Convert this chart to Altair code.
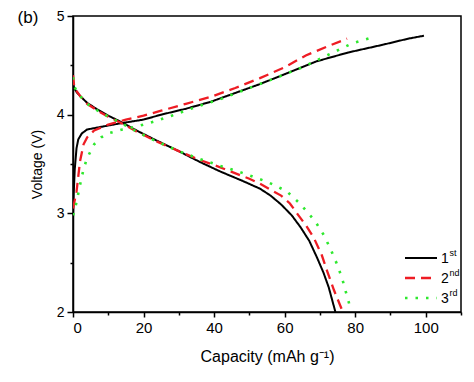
import altair as alt
import pandas as pd

# ---- data ----
cycles = ["1st", "2nd", "3rd"]

c1_charge_x = [0, 0.2, 0.5, 1.0, 1.5, 2.5, 4, 7, 13, 20, 25, 32, 39, 46, 53, 60, 69, 78, 88, 95, 99.5]
c1_charge_y = [2.95, 3.2, 3.45, 3.66, 3.75, 3.81, 3.85, 3.87, 3.91, 3.95, 4.0, 4.06, 4.13, 4.22, 4.31, 4.41, 4.54, 4.63, 4.71, 4.77, 4.80]
c1_dis_x = [0, 0.3, 1, 2, 4, 7, 10, 13.4, 18, 23, 30, 36, 42, 48, 53, 56, 59, 62, 64.5, 67, 69.2, 71, 72.5, 74.4]
c1_dis_y = [4.33, 4.27, 4.23, 4.19, 4.12, 4.05, 3.99, 3.93, 3.84, 3.75, 3.63, 3.52, 3.42, 3.33, 3.25, 3.18, 3.09, 2.98, 2.86, 2.72, 2.55, 2.40, 2.25, 2.0]

c2_charge_x = [0, 0.3, 1.0, 2, 3, 4, 6, 10, 15, 20, 25, 32, 39, 46, 53, 60, 66, 72, 77.7]
c2_charge_y = [3.05, 3.1, 3.22, 3.53, 3.70, 3.77, 3.84, 3.90, 3.95, 3.99, 4.04, 4.11, 4.18, 4.27, 4.37, 4.48, 4.60, 4.69, 4.77]
c2_dis_x = [0, 0.3, 1, 2, 4, 7, 10, 13.4, 18, 23, 30, 36, 40, 45, 50, 53, 56, 59, 61.5, 63.5, 66, 68.3, 70.5, 72.1, 74, 76.5]
c2_dis_y = [4.40, 4.30, 4.24, 4.19, 4.11, 4.04, 3.98, 3.92, 3.83, 3.74, 3.63, 3.54, 3.49, 3.42, 3.35, 3.30, 3.24, 3.18, 3.10, 3.00, 2.88, 2.75, 2.58, 2.41, 2.22, 2.0]

c3_charge_x = [0, 0.6, 1.2, 2, 3, 4, 6, 8, 10, 14, 18, 23, 28, 35, 42, 50, 58, 65, 72, 79, 85.5]
c3_charge_y = [2.98, 3.05, 3.15, 3.29, 3.45, 3.56, 3.70, 3.77, 3.81, 3.85, 3.88, 3.93, 3.99, 4.08, 4.16, 4.27, 4.38, 4.48, 4.60, 4.72, 4.79]
c3_dis_x = [0, 0.3, 1, 2, 4, 7, 10, 13.4, 18, 23, 30, 36, 42.7, 48, 55, 58, 60.7, 64, 66.8, 69, 71.1, 73, 74.9, 76.3, 77.3, 78.8]
c3_dis_y = [4.38, 4.29, 4.24, 4.19, 4.11, 4.04, 3.98, 3.92, 3.83, 3.74, 3.63, 3.55, 3.47, 3.41, 3.32, 3.27, 3.22, 3.11, 3.00, 2.90, 2.78, 2.64, 2.48, 2.34, 2.21, 2.02]

legend_main = ["1", "2", "3"]
legend_sup = ["st", "nd", "rd"]

# ---- build table ----
rows = []
series = {
    "1st": [(c1_charge_x, c1_charge_y), (c1_dis_x, c1_dis_y)],
    "2nd": [(c2_charge_x, c2_charge_y), (c2_dis_x, c2_dis_y)],
    "3rd": [(c3_charge_x, c3_charge_y), (c3_dis_x, c3_dis_y)],
}
for cyc, segs in series.items():
    for si, (xs, ys) in enumerate(segs):
        for i, (xv, yv) in enumerate(zip(xs, ys)):
            rows.append({"cycle": cyc, "seg": f"{cyc}-{si}", "i": i, "cap": xv, "volt": yv})
df = pd.DataFrame(rows)

colors = {"1st": "#000000", "2nd": "#ee1c24", "3rd": "#2ee82e"}
dashes = {"1st": [1, 0], "2nd": [10, 6], "3rd": [2.5, 8]}
widths = {"1st": 2, "2nd": 2.3, "3rd": 2.6}

x_axis = alt.Axis(
    values=list(range(0, 111, 10)),
    labelExpr="datum.value % 20 == 0 && datum.value <= 100 ? datum.label : ''",
    tickSize={"condition": {"test": "datum.value % 20 != 0", "value": 3}, "value": 5},
    title="Capacity (mAh g\u207b\u00b9)",
    titleFontSize=16,
    labelFontSize=15,
    titlePadding=13,
    grid=False,
)
y_axis = alt.Axis(
    values=[2, 2.5, 3, 3.5, 4, 4.5, 5],
    labelExpr="datum.value % 1 == 0 ? format(datum.value, 'd') : ''",
    tickSize={"condition": {"test": "datum.value % 1 != 0", "value": 3}, "value": 6},
    title="Voltage (V)",
    titleFontSize=14,
    labelFontSize=14,
    titlePadding=12,
    grid=False,
)

layers = []
for cyc in cycles:
    layers.append(
        alt.Chart(df[df.cycle == cyc])
        .mark_line(color=colors[cyc], strokeDash=dashes[cyc], strokeWidth=widths[cyc], clip=True)
        .encode(
            x=alt.X("cap:Q", scale=alt.Scale(domain=[0, 110], nice=False), axis=x_axis),
            y=alt.Y("volt:Q", scale=alt.Scale(domain=[2, 5], nice=False), axis=y_axis),
            detail="seg:N",
            order="i:Q",
        )
    )

one = alt.Data(values=[{}])
for k, cyc in enumerate(cycles):
    yy = 242 + 20 * k
    layers.append(
        alt.Chart(one).mark_rule(color=colors[cyc], strokeDash=dashes[cyc], strokeWidth=widths[cyc])
        .encode(x=alt.value(332), x2=alt.value(364), y=alt.value(yy))
    )
    layers.append(
        alt.Chart(one).mark_text(text=legend_main[k], align="left", baseline="middle", fontSize=14, color="black")
        .encode(x=alt.value(368), y=alt.value(yy + 1))
    )
    layers.append(
        alt.Chart(one).mark_text(text=legend_sup[k], align="left", baseline="middle", fontSize=9, color="black")
        .encode(x=alt.value(376.5), y=alt.value(yy - 5))
    )

layers.append(
    alt.Chart(one).mark_text(text="(b)", align="center", baseline="middle", fontSize=17, color="black")
    .encode(x=alt.value(-45), y=alt.value(2))
)

chart = (
    alt.layer(*layers)
    .properties(width=388, height=296, autosize=alt.AutoSizeParams(type="none"),
                padding={"left": 65, "top": 8, "right": 5, "bottom": 62})
    .configure_view(stroke="black", strokeWidth=1.5)
    .configure_axis(
        domainColor="black", domainWidth=1.5, tickColor="black", tickWidth=1.5,
        labelColor="black", titleColor="black", labelFont="Liberation Sans",
        titleFont="Liberation Sans", titleFontWeight="normal", labelPadding=3,
    )
)

chart.save("out.html", embed_options={"renderer": "svg", "actions": False})
